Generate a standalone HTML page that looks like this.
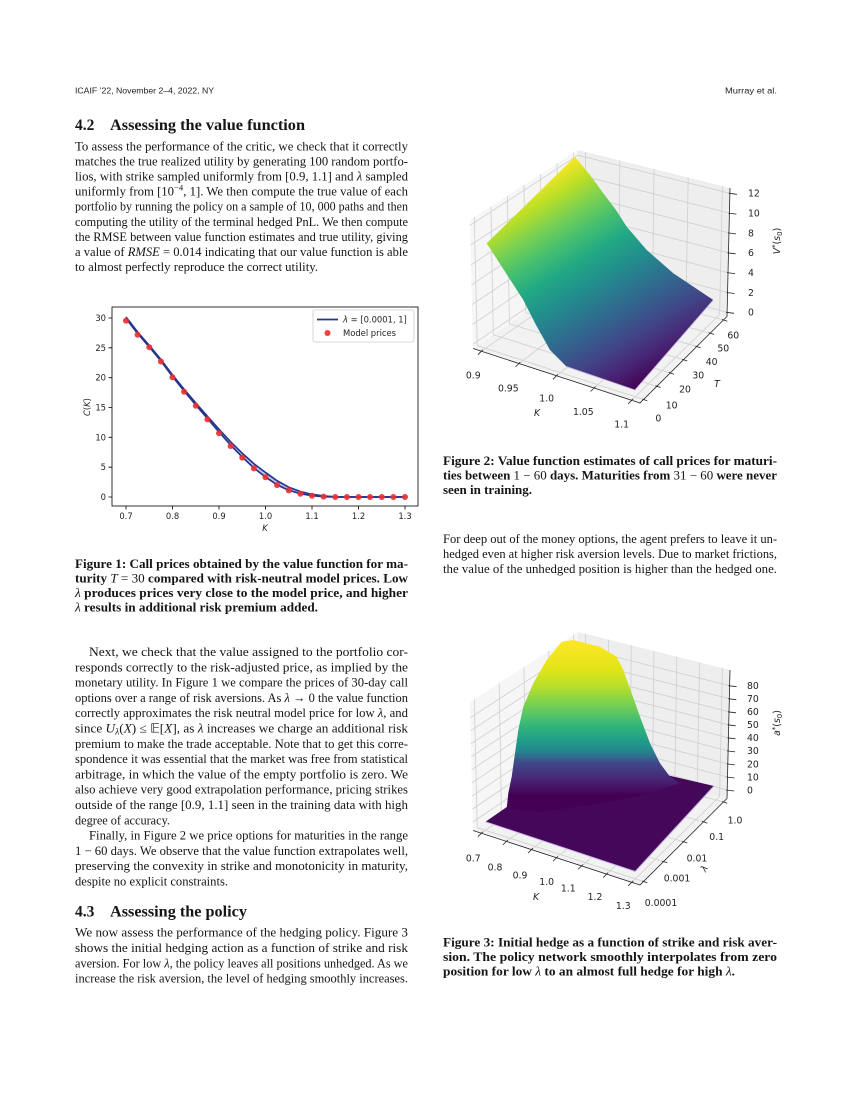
<!DOCTYPE html>
<html>
<head>
<meta charset="utf-8">
<style>
html,body{margin:0;padding:0;background:#fff;}
svg{display:block;}
.b{font-family:"Liberation Serif",serif;font-size:12.5px;fill:#151515;}
.cap{font-family:"Liberation Serif",serif;font-size:12.5px;font-weight:bold;fill:#151515;}
.i{font-style:italic;}
.n{font-weight:normal;}
.h{font-family:"Liberation Serif",serif;font-size:15.5px;font-weight:bold;fill:#151515;}
.hd{font-family:"Liberation Sans",sans-serif;font-size:8px;fill:#222;}
.t{font-family:"DejaVu Sans",sans-serif;font-size:8.4px;fill:#222;}
.t3{font-family:"DejaVu Sans",sans-serif;font-size:9.3px;fill:#222;}
</style>
</head>
<body>
<svg width="850" height="1100" viewBox="0 0 850 1100" xmlns="http://www.w3.org/2000/svg">
<defs>
<linearGradient id="g2" gradientUnits="userSpaceOnUse" x1="573" y1="157" x2="693" y2="354.5">
<stop offset="0" stop-color="#fde725"/><stop offset="0.1" stop-color="#bddf26"/><stop offset="0.2" stop-color="#7ad151"/><stop offset="0.3" stop-color="#44bf70"/><stop offset="0.4" stop-color="#22a884"/><stop offset="0.5" stop-color="#21918c"/><stop offset="0.6" stop-color="#2a788e"/><stop offset="0.7" stop-color="#355f8d"/><stop offset="0.8" stop-color="#414487"/><stop offset="0.9" stop-color="#482475"/><stop offset="1" stop-color="#440154"/>
</linearGradient>
<linearGradient id="g3" gradientUnits="userSpaceOnUse" x1="0" y1="641" x2="0" y2="800">
<stop offset="0" stop-color="#fde725"/><stop offset="0.182" stop-color="#e2e418"/><stop offset="0.289" stop-color="#b5de2b"/><stop offset="0.415" stop-color="#6ece58"/><stop offset="0.528" stop-color="#35b779"/><stop offset="0.623" stop-color="#1f9e89"/><stop offset="0.698" stop-color="#26828e"/><stop offset="0.767" stop-color="#3e4989"/><stop offset="0.862" stop-color="#482878"/><stop offset="0.969" stop-color="#440154"/><stop offset="1" stop-color="#440154"/>
</linearGradient>
</defs>

<!-- Header -->
<text class="hd" x="75" y="93.3" textLength="139" lengthAdjust="spacingAndGlyphs">ICAIF ’22, November 2–4, 2022, NY</text>
<text class="hd" x="725" y="93.3" textLength="52" lengthAdjust="spacingAndGlyphs">Murray et al.</text>

<!-- Section 4.2 -->
<text class="h" x="75" y="130">4.2</text>
<text class="h" x="110" y="130" textLength="195" lengthAdjust="spacingAndGlyphs">Assessing the value function</text>

<text class="b" x="75" y="150.3" textLength="333" lengthAdjust="spacingAndGlyphs">To assess the performance of the critic, we check that it correctly</text>
<text class="b" x="75" y="165.4" textLength="333" lengthAdjust="spacingAndGlyphs">matches the true realized utility by generating 100 random portfo-</text>
<text class="b" x="75" y="180.5" textLength="333" lengthAdjust="spacingAndGlyphs">lios, with strike sampled uniformly from [0.9, 1.1] and <tspan class="i">λ</tspan> sampled</text>
<text class="b" x="75" y="195.6" textLength="333" lengthAdjust="spacingAndGlyphs">uniformly from [10<tspan dy="-5" font-size="8.5">−4</tspan><tspan dy="5">, 1]. We then compute the true value of each</tspan></text>
<text class="b" x="75" y="210.7" textLength="333" lengthAdjust="spacingAndGlyphs">portfolio by running the policy on a sample of 10, 000 paths and then</text>
<text class="b" x="75" y="225.8" textLength="333" lengthAdjust="spacingAndGlyphs">computing the utility of the terminal hedged PnL. We then compute</text>
<text class="b" x="75" y="240.9" textLength="333" lengthAdjust="spacingAndGlyphs">the RMSE between value function estimates and true utility, giving</text>
<text class="b" x="75" y="256" textLength="333" lengthAdjust="spacingAndGlyphs">a value of <tspan class="i">RMSE</tspan> = 0.014 indicating that our value function is able</text>
<text class="b" x="75" y="271.1" textLength="243" lengthAdjust="spacingAndGlyphs">to almost perfectly reproduce the correct utility.</text>

<!-- Figure 1 chart -->
<g>
<rect x="112" y="307" width="306" height="199" fill="#fff" stroke="#000" stroke-width="0.8"/>
<path d="M112,497H108.5M112,467.2H108.5M112,437.3H108.5M112,407.5H108.5M112,377.7H108.5M112,347.8H108.5M112,318H108.5M126,506V509.5M172.5,506V509.5M219,506V509.5M265.5,506V509.5M312,506V509.5M358.5,506V509.5M405,506V509.5" stroke="#000" stroke-width="0.8"/>
<g class="t" text-anchor="end">
<text x="106" y="500">0</text><text x="106" y="470.2">5</text><text x="106" y="440.3">10</text><text x="106" y="410.5">15</text><text x="106" y="380.7">20</text><text x="106" y="350.8">25</text><text x="106" y="321">30</text>
</g>
<g class="t" text-anchor="middle">
<text x="126" y="519">0.7</text><text x="172.5" y="519">0.8</text><text x="219" y="519">0.9</text><text x="265.5" y="519">1.0</text><text x="312" y="519">1.1</text><text x="358.5" y="519">1.2</text><text x="405" y="519">1.3</text>
</g>
<text class="t" x="265" y="531" text-anchor="middle" font-style="italic">K</text>
<text class="t" transform="translate(90,407) rotate(-90)" text-anchor="middle"><tspan font-style="italic">C</tspan>(<tspan font-style="italic">K</tspan>)</text>

<polygon fill="#8f99d2" fill-opacity="0.55" points="126,317 137.6,332 149.3,345.5 160.9,359.5 172.5,375 184.1,389.3 195.8,403 207.4,416.3 219,429.3 230.6,441.8 242.3,453.3 253.9,463.8 265.5,472.5 277.1,480.8 288.8,487.3 300.4,491.6 312,494.4 323.6,496 335.3,496.8 346.9,497 335.3,497 323.6,496.6 312,495.6 300.4,493.7 288.8,490.3 277.1,484.8 265.5,477 253.9,468 242.3,457 230.6,445 219,432 207.4,418.5 195.8,405 184.1,391 172.5,376.5 160.9,361 149.3,347 137.6,333.5 126,318.5"/>
<polyline fill="none" stroke="#27348b" stroke-width="1.7" stroke-linejoin="round" points="126,317 137.6,332 149.3,345.5 160.9,359.5 172.5,375 184.1,389.3 195.8,403 207.4,416.3 219,429.3 230.6,441.8 242.3,453.3 253.9,463.8 265.5,472.5 277.1,480.8 288.8,487.3 300.4,491.6 312,494.4 323.6,496 335.3,496.8 346.9,497 405,497"/>
<polyline fill="none" stroke="#27348b" stroke-width="1.7" stroke-linejoin="round" points="126,318.5 137.6,333.5 149.3,347 160.9,361 172.5,376.5 184.1,391 195.8,405 207.4,418.5 219,432 230.6,445 242.3,457 253.9,468 265.5,477 277.1,484.8 288.8,490.3 300.4,493.7 312,495.6 323.6,496.6 335.3,497 405,497"/>
<g fill="#f03030" fill-opacity="0.92">
<circle cx="126" cy="320.7" r="3"/><circle cx="137.6" cy="334.7" r="3"/><circle cx="149.3" cy="347.2" r="3"/><circle cx="160.9" cy="361.5" r="3"/><circle cx="172.5" cy="377.3" r="3"/><circle cx="184.1" cy="391.7" r="3"/><circle cx="195.8" cy="405.7" r="3"/><circle cx="207.4" cy="419.4" r="3"/><circle cx="219" cy="433.2" r="3"/><circle cx="230.6" cy="446" r="3"/><circle cx="242.3" cy="457.6" r="3"/><circle cx="253.9" cy="468.4" r="3"/><circle cx="265.5" cy="477.3" r="3"/><circle cx="277.1" cy="485.1" r="3"/><circle cx="288.8" cy="490.4" r="3"/><circle cx="300.4" cy="493.7" r="3"/><circle cx="312" cy="495.7" r="3"/><circle cx="323.6" cy="496.6" r="3"/><circle cx="335.3" cy="497" r="3"/><circle cx="346.9" cy="497" r="3"/><circle cx="358.5" cy="497" r="3"/><circle cx="370.1" cy="497" r="3"/><circle cx="381.8" cy="497" r="3"/><circle cx="393.4" cy="497" r="3"/><circle cx="405" cy="497" r="3"/>
</g>
<rect x="313" y="310" width="101" height="32" rx="2" fill="#fff" fill-opacity="0.85" stroke="#cccccc" stroke-width="0.8"/>
<line x1="317" y1="319.5" x2="338" y2="319.5" stroke="#27348b" stroke-width="1.7"/>
<text class="t" x="343" y="322.5"><tspan font-style="italic">λ</tspan> = [0.0001, 1]</text>
<circle cx="327.5" cy="333" r="3" fill="#f03030" fill-opacity="0.92"/>
<text class="t" x="343" y="336">Model prices</text>
</g>

<!-- Figure 1 caption -->
<text class="cap" x="75" y="567.8" textLength="333" lengthAdjust="spacingAndGlyphs">Figure 1: Call prices obtained by the value function for ma-</text>
<text class="cap" x="75" y="582.3" textLength="333" lengthAdjust="spacingAndGlyphs">turity <tspan class="i n">T</tspan><tspan class="n"> = 30</tspan> compared with risk-neutral model prices. Low</text>
<text class="cap" x="75" y="596.8" textLength="333" lengthAdjust="spacingAndGlyphs"><tspan class="i n">λ</tspan> produces prices very close to the model price, and higher</text>
<text class="cap" x="75" y="611.3" textLength="243" lengthAdjust="spacingAndGlyphs"><tspan class="i n">λ</tspan> results in additional risk premium added.</text>

<!-- Paragraph -->
<text class="b" x="89" y="656" textLength="319" lengthAdjust="spacingAndGlyphs">Next, we check that the value assigned to the portfolio cor-</text>
<text class="b" x="75" y="671.3" textLength="333" lengthAdjust="spacingAndGlyphs">responds correctly to the risk-adjusted price, as implied by the</text>
<text class="b" x="75" y="686.6" textLength="333" lengthAdjust="spacingAndGlyphs">monetary utility. In Figure 1 we compare the prices of 30-day call</text>
<text class="b" x="75" y="701.9" textLength="333" lengthAdjust="spacingAndGlyphs">options over a range of risk aversions. As <tspan class="i">λ</tspan> → 0 the value function</text>
<text class="b" x="75" y="717.2" textLength="333" lengthAdjust="spacingAndGlyphs">correctly approximates the risk neutral model price for low <tspan class="i">λ</tspan>, and</text>
<text class="b" x="75" y="732.5" textLength="333" lengthAdjust="spacingAndGlyphs">since <tspan class="i">U</tspan><tspan class="i" font-size="9" dy="2">λ</tspan><tspan dy="-2">(</tspan><tspan class="i">X</tspan>) ≤ 𝔼[<tspan class="i">X</tspan>], as <tspan class="i">λ</tspan> increases we charge an additional risk</text>
<text class="b" x="75" y="747.8" textLength="333" lengthAdjust="spacingAndGlyphs">premium to make the trade acceptable. Note that to get this corre-</text>
<text class="b" x="75" y="763.1" textLength="333" lengthAdjust="spacingAndGlyphs">spondence it was essential that the market was free from statistical</text>
<text class="b" x="75" y="778.4" textLength="333" lengthAdjust="spacingAndGlyphs">arbitrage, in which the value of the empty portfolio is zero. We</text>
<text class="b" x="75" y="793.7" textLength="333" lengthAdjust="spacingAndGlyphs">also achieve very good extrapolation performance, pricing strikes</text>
<text class="b" x="75" y="809" textLength="333" lengthAdjust="spacingAndGlyphs">outside of the range [0.9, 1.1] seen in the training data with high</text>
<text class="b" x="75" y="824.3" textLength="95" lengthAdjust="spacingAndGlyphs">degree of accuracy.</text>
<text class="b" x="89" y="839.6" textLength="319" lengthAdjust="spacingAndGlyphs">Finally, in Figure 2 we price options for maturities in the range</text>
<text class="b" x="75" y="854.9" textLength="333" lengthAdjust="spacingAndGlyphs">1 − 60 days. We observe that the value function extrapolates well,</text>
<text class="b" x="75" y="870.2" textLength="333" lengthAdjust="spacingAndGlyphs">preserving the convexity in strike and monotonicity in maturity,</text>
<text class="b" x="75" y="885.5" textLength="153" lengthAdjust="spacingAndGlyphs">despite no explicit constraints.</text>

<!-- Section 4.3 -->
<text class="h" x="75" y="916.7">4.3</text>
<text class="h" x="110" y="916.7" textLength="137" lengthAdjust="spacingAndGlyphs">Assessing the policy</text>
<text class="b" x="75" y="936.7" textLength="333" lengthAdjust="spacingAndGlyphs">We now assess the performance of the hedging policy. Figure 3</text>
<text class="b" x="75" y="952" textLength="333" lengthAdjust="spacingAndGlyphs">shows the initial hedging action as a function of strike and risk</text>
<text class="b" x="75" y="967.3" textLength="333" lengthAdjust="spacingAndGlyphs">aversion. For low <tspan class="i">λ</tspan>, the policy leaves all positions unhedged. As we</text>
<text class="b" x="75" y="982.6" textLength="333" lengthAdjust="spacingAndGlyphs">increase the risk aversion, the level of hedging smoothly increases.</text>

<!-- Figure 2 (3D) -->
<g>
<polygon points="473,348.5 578,277 578,150 470,220" fill="#f6f6f6"/>
<polygon points="578,277 727,316.5 730,188 578,150" fill="#eeeeee"/>
<polygon points="473,348.5 640,403 727,316.5 578,277" fill="#f2f2f2"/>
<path fill="none" stroke="#cfcfcf" stroke-width="0.8" d="M477.2,345.6L474.3,217.2M493.3,334.7L490.9,206.5M509.4,323.7L507.4,195.7M525.5,312.75L524,185M541.6,301.8L540.6,174.3M557.7,290.8L557.1,163.5M573.8,279.9L573.7,152.8
M472.9,344.3L578,272.9M472.4,324.5L578,253.3M472,304.6L578,233.7M471.5,284.8L578,214M471,264.9L578,194.4M470.6,245.1L578,174.8M470.1,225.3L578,155.2
M578,272.9L727.1,312.3M578,253.3L727.6,292.5M578,233.7L728,272.6M578,214L728.5,252.8M578,194.4L729,232.9M578,174.8L729.4,213.1M578,155.2L729.9,193.3
M585.5,279L585.6,151.9M619,287.9L619.8,160.5M652.5,296.8L654,169M686,305.6L688.2,177.6M719.6,314.5L722.4,186.1
M481.4,351.2L585.5,279M518.9,363.5L619,287.9M556.5,375.8L652.5,296.8M594.1,388L686,305.6M631.7,400.3L719.6,314.5
M477.2,345.6L643.5,399.5M493.3,334.7L656.8,386.3M509.4,323.7L670.2,373M525.5,312.75L683.5,359.75M541.6,301.8L696.8,346.5M557.7,290.8L710.2,333.2M573.8,279.9L723.5,320"/>
<path fill="none" stroke="#222" stroke-width="0.8" d="M473,348.5L640,403L727,316.5L730,188
M482.8,349.8L477.9,354.7M520.3,362.1L515.4,367M557.9,374.4L553,379.3M595.5,386.6L590.6,391.5M633.1,398.9L628.2,403.8
M642.1,399L647.3,400.7M655.4,385.8L660.6,387.5M668.8,372.5L674,374.2M682.1,359.25L687.3,360.95M695.4,346L700.6,347.7M708.8,332.7L714,334.4M722.1,319.5L727.3,321.2
M726.1,312.3L734.1,313.3M726.6,292.5L734.6,293.5M727,272.6L735,273.6M727.5,252.8L735.5,253.8M728,232.9L736,233.9M728.4,213.1L736.4,214.1M728.9,193.3L736.9,194.3"/>
<polygon fill="url(#g2)" points="486.7,243.3 575,156.7 590,175 603.3,193.3 616,210 626.7,226.7 646.7,250 673.3,273.3 713.3,300 635,390 566.7,366.7 550,350 536,325 523.3,300"/>
<path fill="none" stroke="#c8b8e6" stroke-width="0.9" d="M713.3,300L635,390L566.7,366.7"/>
<g class="t3" text-anchor="middle">
<text x="473.3" y="378.4">0.9</text><text x="508.3" y="391.7">0.95</text><text x="546.7" y="401.7">1.0</text><text x="583.3" y="415.1">1.05</text><text x="621.7" y="427.4">1.1</text>
<text x="658.3" y="421.7">0</text><text x="671.7" y="408.4">10</text><text x="685" y="392.7">20</text><text x="698.3" y="378.4">30</text><text x="711.7" y="365.1">40</text><text x="723.3" y="351.7">50</text><text x="733.3" y="338.4">60</text>
</g>
<g class="t3">
<text x="748" y="196.7">12</text><text x="748" y="216.5">10</text><text x="748" y="236.3">8</text><text x="748" y="256.2">6</text><text x="748" y="276">4</text><text x="748" y="295.9">2</text><text x="748" y="315.7">0</text>
</g>
<text class="t3" x="537" y="416" text-anchor="middle" font-style="italic">K</text>
<text class="t3" x="717" y="387" text-anchor="middle" font-style="italic">T</text>
<text class="t3" transform="translate(780,241) rotate(-90)" text-anchor="middle"><tspan font-style="italic">V</tspan><tspan dy="-3" font-size="7">*</tspan><tspan dy="3">(</tspan><tspan font-style="italic">s</tspan><tspan dy="2" font-size="7">0</tspan><tspan dy="-2">)</tspan></text>
</g>

<!-- Figure 2 caption -->
<text class="cap" x="443" y="465" textLength="334" lengthAdjust="spacingAndGlyphs">Figure 2: Value function estimates of call prices for maturi-</text>
<text class="cap" x="443" y="479.5" textLength="334" lengthAdjust="spacingAndGlyphs">ties between <tspan class="n">1 − 60</tspan> days. Maturities from <tspan class="n">31 − 60</tspan> were never</text>
<text class="cap" x="443" y="494" textLength="89" lengthAdjust="spacingAndGlyphs">seen in training.</text>

<text class="b" x="443" y="543" textLength="334" lengthAdjust="spacingAndGlyphs">For deep out of the money options, the agent prefers to leave it un-</text>
<text class="b" x="443" y="558" textLength="334" lengthAdjust="spacingAndGlyphs">hedged even at higher risk aversion levels. Due to market frictions,</text>
<text class="b" x="443" y="573" textLength="334" lengthAdjust="spacingAndGlyphs">the value of the unhedged position is higher than the hedged one.</text>

<!-- Figure 3 (3D) -->
<g>
<polygon points="473,830.5 578,759 578,632 470,702" fill="#f6f6f6"/>
<polygon points="578,759 727,798.5 730,670 578,632" fill="#eeeeee"/>
<polygon points="473,830.5 640,885 727,798.5 578,759" fill="#f2f2f2"/>
<path fill="none" stroke="#cfcfcf" stroke-width="0.8" d="M477.2,827.6L474.3,699.2M501.4,811.2L499.2,683.1M525.5,794.75L524,667M549.7,778.3L548.8,650.9M573.8,761.9L573.7,634.8
M472.8,822L578,750.6M472.5,809L578,737.7M472.2,795.9L578,724.8M471.9,782.9L578,711.9M471.6,769.8L578,699.1M471.3,756.8L578,686.2M471,743.8L578,673.3M470.7,730.7L578,660.4M470.4,717.7L578,647.5
M578,750.6L727.2,790M578,737.7L727.5,777M578,724.8L727.8,763.9M578,711.9L728.1,750.9M578,699.1L728.4,737.8M578,686.2L728.7,724.8M578,673.3L729,711.8M578,660.4L729.3,698.7M578,647.5L729.6,685.7
M585.5,761L585.6,633.9M607.8,766.9L608.4,639.6M630.2,772.8L631.2,645.3M652.5,778.75L654,651M674.9,784.7L676.8,656.7M697.2,790.6L699.6,662.4M719.6,796.5L722.4,668.1
M481.4,833.2L585.5,761M506.4,841.4L607.8,766.9M531.5,849.6L630.2,772.8M556.5,857.75L652.5,778.75M581.6,865.9L674.9,784.7M606.6,874.1L697.2,790.6M631.7,882.3L719.6,796.5
M477.2,827.6L643.5,881.5M501.4,811.2L663.5,861.6M525.5,794.75L683.5,841.75M549.7,778.3L703.5,821.9M573.8,761.9L723.5,802"/>
<path fill="none" stroke="#222" stroke-width="0.8" d="M473,830.5L640,885L727,798.5L730,670
M482.8,831.8L477.9,836.7M507.8,840L502.9,844.9M532.9,848.2L528,853.1M557.9,856.35L553,861.25M583,864.5L578.1,869.4M608,872.7L603.1,877.6M633.1,880.9L628.2,885.8
M642.1,881L647.3,882.7M662.1,861.1L667.3,862.8M682.1,841.25L687.3,842.95M702.1,821.4L707.3,823.1M722.1,801.5L727.3,803.2
M726.2,790L734.2,791M726.5,777L734.5,778M726.8,763.9L734.8,764.9M727.1,750.9L735.1,751.9M727.4,737.8L735.4,738.8M727.7,724.8L735.7,725.8M728,711.8L736,712.8M728.3,698.7L736.3,699.7M728.6,685.7L736.6,686.7"/>
<polygon fill="#45075a" points="485.5,821.8 635.2,871.5 714,786 581.3,755.4"/>
<path fill="none" stroke="#c8b8e6" stroke-width="1" d="M485.5,821.8L635.2,871.5L714,786"/>
<polygon fill="url(#g3)" points="506.7,808.3 508.3,793.3 511.7,776.7 515,753.3 518.3,730 523.3,706.7 533.3,683.3 546.7,660 561.7,641.7 573.3,640 600,646.7 616.7,656.7 623.3,670 631.7,693.3 640,716.7 650,743.3 660,763.3 670,776.7 680,783.3 640,796 590,805 540,812"/>
<g class="t3" text-anchor="middle">
<text x="473.3" y="861.7">0.7</text><text x="495" y="870.7">0.8</text><text x="520" y="878.4">0.9</text><text x="546.7" y="885.1">1.0</text><text x="568.3" y="891.7">1.1</text><text x="595" y="900.1">1.2</text><text x="623.3" y="909.1">1.3</text>
<text x="661" y="906">0.0001</text><text x="677" y="881.7">0.001</text><text x="697" y="861.7">0.01</text><text x="716.7" y="840.1">0.1</text><text x="735" y="823.4">1.0</text>
</g>
<g class="t3">
<text x="747" y="689.2">80</text><text x="747" y="702.1">70</text><text x="747" y="715.1">60</text><text x="747" y="728.2">50</text><text x="747" y="741.2">40</text><text x="747" y="754.2">30</text><text x="747" y="767.3">20</text><text x="747" y="780.4">10</text><text x="747" y="793.4">0</text>
</g>
<text class="t3" x="536" y="900" text-anchor="middle" font-style="italic">K</text>
<text class="t3" transform="translate(707,870) rotate(-60)" text-anchor="middle" font-style="italic">λ</text>
<text class="t3" transform="translate(780,723) rotate(-90)" text-anchor="middle"><tspan font-style="italic">a</tspan><tspan dy="-3" font-size="7">*</tspan><tspan dy="3">(</tspan><tspan font-style="italic">s</tspan><tspan dy="2" font-size="7">0</tspan><tspan dy="-2">)</tspan></text>
</g>

<!-- Figure 3 caption -->
<text class="cap" x="443" y="946.5" textLength="334" lengthAdjust="spacingAndGlyphs">Figure 3: Initial hedge as a function of strike and risk aver-</text>
<text class="cap" x="443" y="961" textLength="334" lengthAdjust="spacingAndGlyphs">sion. The policy network smoothly interpolates from zero</text>
<text class="cap" x="443" y="975.5" textLength="292" lengthAdjust="spacingAndGlyphs">position for low <tspan class="i n">λ</tspan> to an almost full hedge for high <tspan class="i n">λ</tspan>.</text>
</svg>
</body>
</html>
